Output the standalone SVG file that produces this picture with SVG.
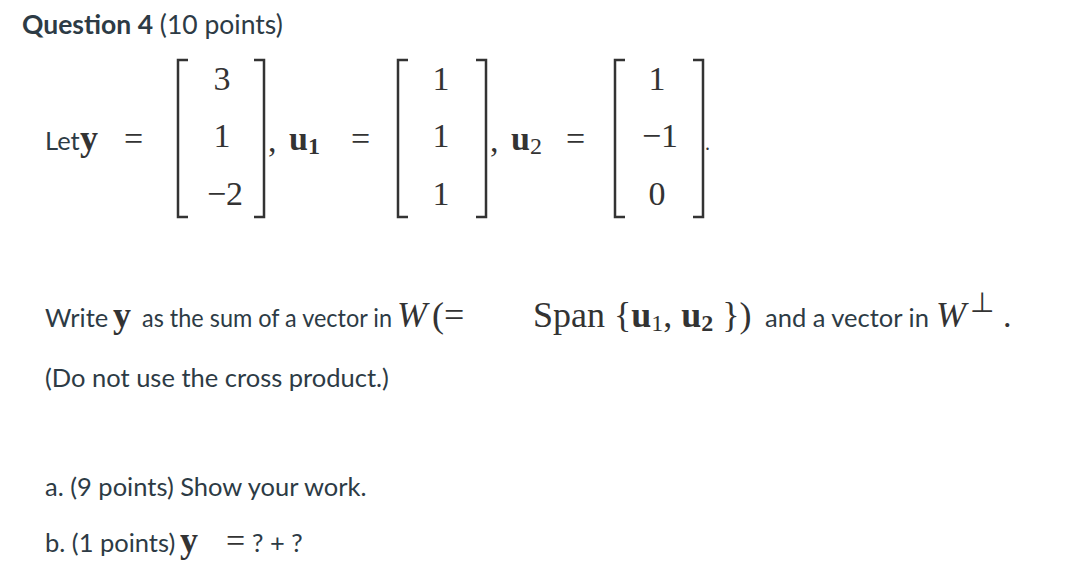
<svg xmlns="http://www.w3.org/2000/svg" width="1078" height="564" viewBox="0 0 1078 564">
<style>
.s{font-family:Lato,"Liberation Sans",sans-serif;font-size:25.5px;fill:#2d3b45}
.m{font-family:"Liberation Serif",serif;font-size:34px;fill:#333}
.b{font-weight:bold}
.br{fill:none;stroke:#333;stroke-width:2.5}
</style>
<rect width="1078" height="564" fill="#fff"/>
<text x="22" y="34" class="s" style="font-size:26.5px"><tspan font-weight="bold">Question 4</tspan> (10 points)</text>
<text x="45" y="150" class="s">Let</text>
<text x="80" y="150" class="m b" style="font-size:36px">y</text>
<text x="124" y="150" class="m">=</text>
<path class="br" d="M188,60 H178 V217 H188 M254,60 H264 V217 H254"/>
<text x="222" y="90" class="m" text-anchor="middle">3</text>
<text x="222" y="147" class="m" text-anchor="middle">1</text>
<text x="225" y="205" class="m" text-anchor="middle">−2</text>
<text x="268" y="152" class="m">,</text>
<text x="289" y="150" class="m b">u<tspan font-size="24" dy="4">1</tspan></text>
<text x="351" y="150" class="m">=</text>
<path class="br" d="M408,60 H398 V217 H408 M476,60 H486 V217 H476"/>
<text x="441" y="90" class="m" text-anchor="middle">1</text>
<text x="441" y="147" class="m" text-anchor="middle">1</text>
<text x="441" y="205" class="m" text-anchor="middle">1</text>
<text x="490" y="152" class="m">,</text>
<text x="511" y="150" class="m b">u<tspan font-size="24" dy="4" font-weight="normal">2</tspan></text>
<text x="566" y="150" class="m">=</text>
<path class="br" d="M625,60 H615 V217 H625 M693,60 H703 V217 H693"/>
<text x="657" y="90" class="m" text-anchor="middle">1</text>
<text x="660" y="147" class="m" text-anchor="middle">−1</text>
<text x="657" y="205" class="m" text-anchor="middle">0</text>
<text x="705" y="150" class="m" style="font-size:20px">.</text>
<text x="45" y="327" class="s">Write</text>
<text x="113" y="327" class="m b" style="font-size:36px">y</text>
<text x="142" y="327" class="s" textLength="250" lengthAdjust="spacingAndGlyphs">as the sum of a vector in</text>
<text x="397" y="327" class="m" font-style="italic" style="font-size:36px">W</text>
<text x="432" y="327" class="m" style="font-size:36px">(=</text>
<text x="533" y="327" class="m" style="font-size:36px">Span {<tspan font-weight="bold">u</tspan><tspan font-size="24" dy="4">1</tspan><tspan dy="-4">, </tspan><tspan font-weight="bold">u</tspan><tspan font-size="24" dy="4" font-weight="bold">2</tspan><tspan dy="-4"> })</tspan></text>
<text x="765" y="327" class="s">and a vector in</text>
<text x="936" y="327" class="m" font-style="italic" style="font-size:36px">W</text>
<text x="970" y="312" class="m" style="font-size:28px">⊥</text>
<text x="1003" y="327" class="m">.</text>
<text x="45" y="387" class="s">(Do not use the cross product.)</text>
<text x="45" y="496" class="s">a. (9 points) Show your work.</text>
<text x="45" y="552" class="s">b. (1 points)</text>
<text x="180" y="552" class="m b" style="font-size:36px">y</text>
<text x="226" y="552" class="m">=</text>
<text x="252" y="552" class="s">? + ?</text>
</svg>
